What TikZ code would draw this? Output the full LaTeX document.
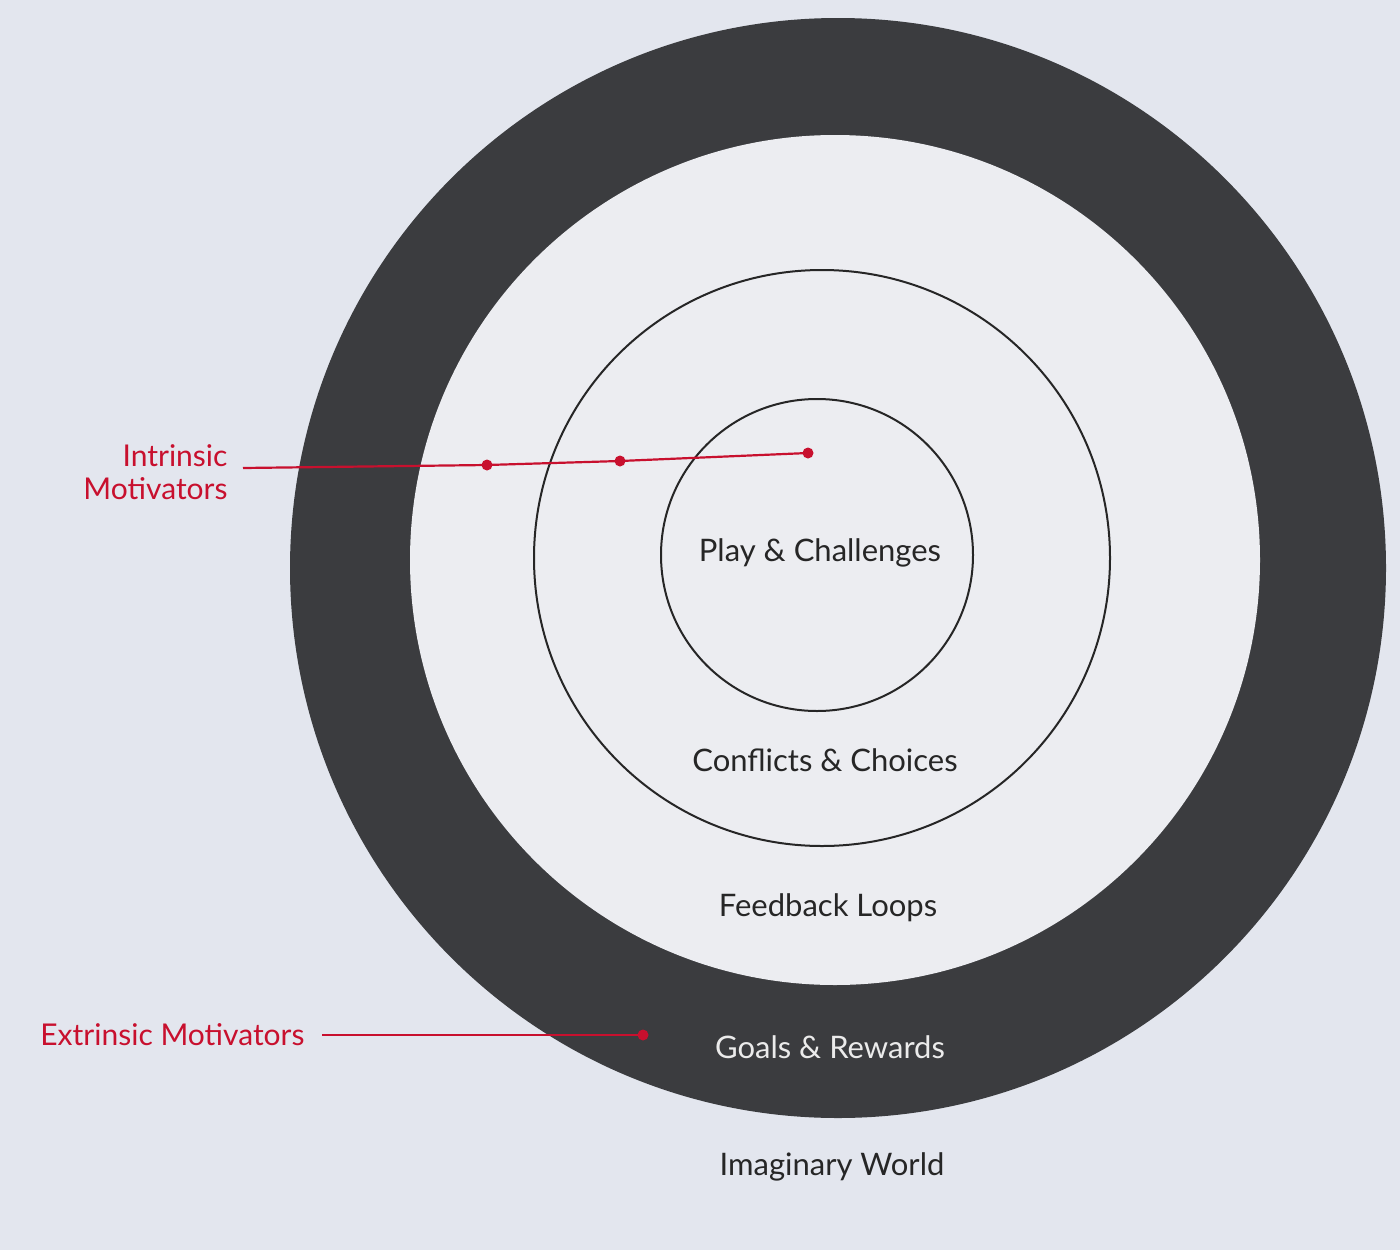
\documentclass[tikz,border=0pt]{standalone}
\usepackage{fontspec}
\setmainfont{Lato}
\definecolor{bg}{HTML}{E3E6EE}
\definecolor{ring}{HTML}{3B3C3F}
\definecolor{inner}{HTML}{ECEDF1}
\definecolor{mred}{HTML}{C8102E}
\begin{document}
\begin{tikzpicture}[x=1pt,y=-1pt,
  lbl/.style={font=\fontsize{31}{36}\selectfont, text=black!85},
  rlbl/.style={font=\fontsize{30}{33}\selectfont, text=mred},
  dot/.style={circle, fill=mred, inner sep=0pt, minimum size=11pt},
  ln/.style={draw=black!85, line width=2pt}]
\fill[bg] (0,0) rectangle (1400,1250);
\useasboundingbox (0,0) rectangle (1400,1250);
\fill[ring] (838,568) ellipse [x radius=548, y radius=550];
\fill[inner] (835,560) circle (425);
\draw[ln] (822,558) circle (288);
\draw[ln] (817,555) circle (156);
\node[lbl] (play) at (820,553) {Play \& Challenges};
\node[lbl] (conf) at (825,760) {Conflicts \& Choices};
\node[lbl] (feed) at (828,908) {Feedback Loops};
\node[lbl, text=white!92!black] (goal) at (830,1047) {Goals \& Rewards};
\node[lbl] (imag) at (832,1167) {Imaginary World};
\node[rlbl, align=right, anchor=east] (intr) at (231,472) {Intrinsic\\Motivators};
\node[rlbl, anchor=east] (extr) at (308,1035) {Extrinsic Motivators};
\node[dot] (d1) at (487,465) {};
\node[dot] (d2) at (620,461) {};
\node[dot] (d3) at (808,453) {};
\node[dot] (d4) at (643,1035) {};
\coordinate (s1) at (243,468);
\coordinate (s2) at (322,1035);
\draw[mred, line width=2.2pt] (s1) -- (d1.center) -- (d2.center) -- (d3.center);
\draw[mred, line width=2.2pt] (s2) -- (d4.center);
\end{tikzpicture}
\end{document}
